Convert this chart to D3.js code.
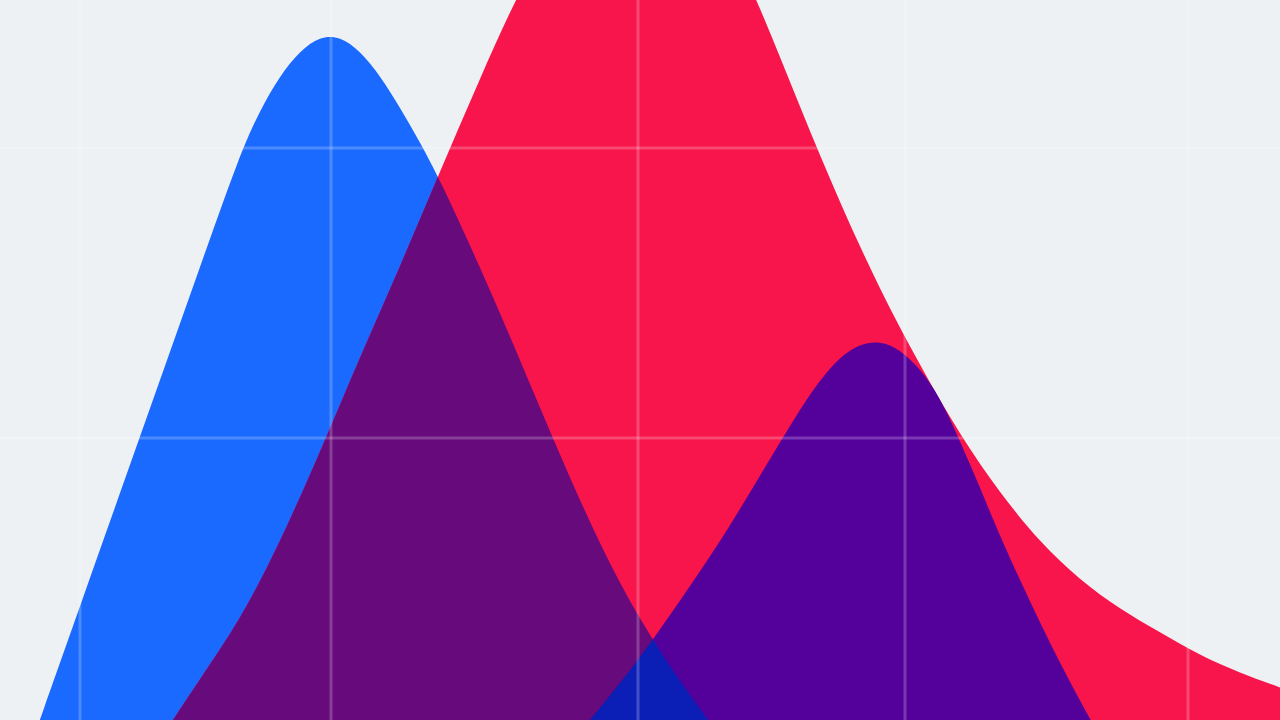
<!DOCTYPE html>
<html>
<head>
<meta charset="utf-8">
<script src="https://cdn.jsdelivr.net/npm/d3@7"></script>
<style>
  html, body { margin: 0; padding: 0; background: #eef1f4; overflow: hidden; }
  svg { display: block; }
</style>
</head>
<body>
<svg id="chart" width="1280" height="720"></svg>
<script>
// ---- data: [x value, density value] ----
const blueSeries = [
  [0.65, 8.9], [1, 10.3], [2, 14.2], [3, 18.1], [4, 22.0], [5, 25.9], [6, 29.8],
  [6.5, 31.3], [7, 32.5], [7.5, 33.35], [8, 33.85], [8.5, 33.85], [9, 33.35], [9.5, 32.5],
  [10, 31.4], [10.5, 30.2], [11, 28.9], [12, 25.9], [13, 22.7], [14, 19.4],
  [15, 16.3], [16, 13.7], [17, 11.6], [18, 9.7], [19, 7.9]
];
const redSeries = [
  [3, 7.5], [4, 9.6], [5, 11.7], [6, 13.7], [7, 16.4], [8, 19.5], [9, 22.8],
  [10, 25.9], [11, 29.2], [12, 32.4], [13, 35.5], [14, 37.8], [15, 39.2], [16, 39.6],
  [17, 39.2], [18, 37.8], [19, 34.9], [20, 31.4], [21, 28.1], [22, 25.1], [23, 22.5],
  [24, 20.1], [25, 18.1], [26, 16.4], [27, 15.1], [28, 14.1], [29, 13.3], [30, 12.5],
  [31, 11.9], [32, 11.4], [33, 10.9], [34, 10.6]
];
const thirdSeries = [
  [14, 9.0], [15, 10.7], [16, 12.4], [17, 14.4], [18, 16.4], [19, 18.7], [20, 21.0],
  [20.5, 22.0], [21, 22.8], [21.5, 23.25], [22, 23.35], [22.5, 23.05], [23, 22.4],
  [23.5, 21.4], [24, 19.9], [24.5, 18.3], [25, 16.6], [26, 13.6], [27, 10.9], [28, 8.5]
];
const xTicks = [2.0, 8.275, 15.95, 22.625, 29.7];
const yTicks = [20, 30];

// ---- styles ----
const W = 1280, H = 720;
const colors = {
  bg: "#eef1f4",
  blue: "#1a6aff",
  red: "#f8154b",
  blueRed: "#670a7b",
  third: "#54019b",
  triple: "#0b1fb6",
  grid: "#ffffff"
};

const svg = d3.select("#chart");
const x = d3.scaleLinear().domain([0, 32]).range([0, W]);
const y = d3.scaleLinear().domain([0, 30]).range([1018, 148]);

const area = d3.area()
  .x(d => x(d[0]))
  .y0(y(0))
  .y1(d => y(d[1]))
  .curve(d3.curveBasis);

svg.append("rect").attr("width", W).attr("height", H).attr("fill", colors.bg);

const defs = svg.append("defs");
defs.append("clipPath").attr("id", "clipRed").append("path").attr("d", area(redSeries));
defs.append("clipPath").attr("id", "clipBlue").append("path").attr("d", area(blueSeries));

// base areas
svg.append("path").attr("d", area(blueSeries)).attr("fill", colors.blue);
svg.append("path").attr("d", area(redSeries)).attr("fill", colors.red);
// blue ∩ red
svg.append("path").attr("d", area(blueSeries)).attr("fill", colors.blueRed)
  .attr("clip-path", "url(#clipRed)");
// third series
svg.append("path").attr("d", area(thirdSeries)).attr("fill", colors.third);
// third ∩ blue
svg.append("path").attr("d", area(thirdSeries)).attr("fill", colors.triple)
  .attr("clip-path", "url(#clipBlue)");

// grid drawn on top
const grid = svg.append("g").attr("stroke", colors.grid).attr("stroke-opacity", 0.22).attr("stroke-width", 3);
grid.selectAll("line.v").data(xTicks).enter().append("line")
  .attr("class", "v")
  .attr("x1", d => x(d)).attr("x2", d => x(d))
  .attr("y1", 0).attr("y2", H);
grid.selectAll("line.h").data(yTicks).enter().append("line")
  .attr("class", "h")
  .attr("x1", 0).attr("x2", W)
  .attr("y1", d => y(d)).attr("y2", d => y(d));
</script>
</body>
</html>
